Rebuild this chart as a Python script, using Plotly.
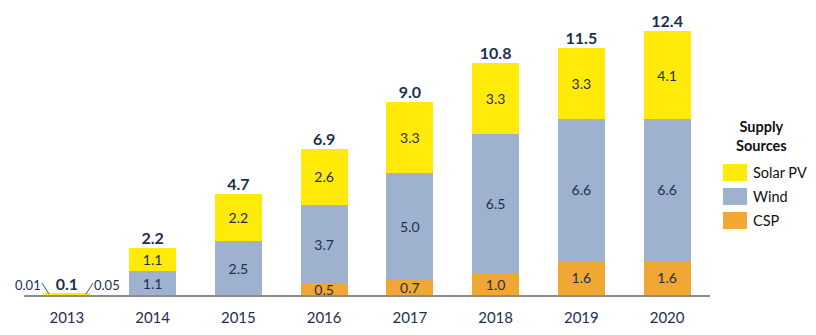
import plotly.graph_objects as go

years = ["2013", "2014", "2015", "2016", "2017", "2018", "2019", "2020"]
csp = [0.0, 0.0, 0.0, 0.5, 0.7, 1.0, 1.6, 1.6]
wind = [0.01, 1.1, 2.5, 3.7, 5.0, 6.5, 6.6, 6.6]
solar = [0.05, 1.1, 2.2, 2.6, 3.3, 3.3, 3.3, 4.1]
totals = ["0.1", "2.2", "4.7", "6.9", "9.0", "10.8", "11.5", "12.4"]

csp_lbl = ["", "", "", "0.5", "0.7", "1.0", "1.6", "1.6"]
wind_lbl = ["", "1.1", "2.5", "3.7", "5.0", "6.5", "6.6", "6.6"]
solar_lbl = ["", "1.1", "2.2", "2.6", "3.3", "3.3", "3.3", "4.1"]
small_lbl = ["0.01", "0.05"]

C_SOLAR = "#FFEA0A"
C_WIND = "#9EB1CF"
C_CSP = "#F0A733"
TXT = "#1F2E4F"
FONT = "Lato, Open Sans, sans-serif"

W, H = 816, 335
ML, MR, MB, MT = 24, 106, 40, 10
PW, PH = W - ML - MR, H - MB - MT


def px(x):
    return (x - ML) / PW


def py(y):
    return (H - MB - y) / PH


fig = go.Figure()
for name, vals, lbls, col in [("CSP", csp, csp_lbl, C_CSP),
                              ("Wind", wind, wind_lbl, C_WIND),
                              ("Solar PV", solar, solar_lbl, C_SOLAR)]:
    fig.add_trace(go.Bar(
        x=years, y=vals, name=name, marker=dict(color=col, line=dict(width=0)),
        text=lbls, textposition="inside", insidetextanchor="middle",
        constraintext="none", textangle=0,
        textfont=dict(size=14, color=TXT, family=FONT),
        hoverinfo="skip", showlegend=False,
    ))

stack = [c + w + s for c, w, s in zip(csp, wind, solar)]
fig.add_trace(go.Scatter(
    x=years, y=stack, mode="text", text=totals, textposition="top center",
    textfont=dict(size=16, color=TXT, family=FONT, weight="bold"),
    showlegend=False, hoverinfo="skip", cliponaxis=False,
))

# 2013 small value callouts (labels + leader lines)
fig.add_annotation(xref="paper", yref="paper", x=px(28), y=py(285), text=small_lbl[0],
                   showarrow=False, xanchor="center", yanchor="middle",
                   font=dict(size=13, color=TXT, family=FONT))
fig.add_annotation(xref="paper", yref="paper", x=px(107), y=py(285), text=small_lbl[1],
                   showarrow=False, xanchor="center", yanchor="middle",
                   font=dict(size=13, color=TXT, family=FONT))
fig.add_shape(type="line", xref="paper", yref="paper", x0=px(42), y0=py(283),
              x1=px(49), y1=py(294), line=dict(color="#555", width=1))
fig.add_shape(type="line", xref="paper", yref="paper", x0=px(93), y0=py(283),
              x1=px(86), y1=py(294), line=dict(color="#555", width=1))

# Legend (manual)
fig.add_annotation(xref="paper", yref="paper", x=px(762), y=py(136), text="<b>Supply<br>Sources</b>",
                   showarrow=False, xanchor="center", yanchor="middle", align="center",
                   font=dict(size=14.5, color="#111", family=FONT))
items = [("Solar PV", C_SOLAR, 164), ("Wind", C_WIND, 188), ("CSP", C_CSP, 212)]
for label, col, top in items:
    fig.add_shape(type="rect", xref="paper", yref="paper",
                  x0=px(723), x1=px(747), y0=py(top + 17), y1=py(top),
                  fillcolor=col, line=dict(width=0))
    fig.add_annotation(xref="paper", yref="paper", x=px(751), y=py(top + 8.5), text=label,
                       showarrow=False, xanchor="left", yanchor="middle",
                       font=dict(size=14.5, color="#111", family=FONT))

fig.update_layout(
    barmode="stack", bargap=0.45,
    width=W, height=H, margin=dict(l=ML, r=MR, t=MT, b=MB),
    plot_bgcolor="white", paper_bgcolor="white",
    font=dict(family=FONT, color=TXT),
    xaxis=dict(showline=True, linecolor="#8C8C8C", linewidth=1.5, ticks="",
               tickfont=dict(size=15, color=TXT, family=FONT), showgrid=False,
               range=[-0.5, 7.5], ticklabelstandoff=8),
    yaxis=dict(visible=False, range=[0, 13.28], showgrid=False),
    showlegend=False,
)

fig.write_html("out.html")
